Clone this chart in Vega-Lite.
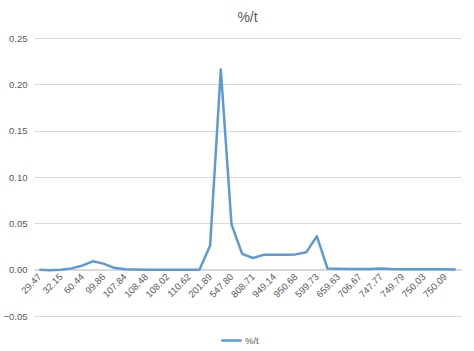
{
  "$schema": "https://vega.github.io/schema/vega-lite/v6.json",
  "width": 427,
  "height": 278,
  "autosize": {"type": "none"},
  "padding": {"left": 34, "top": 38, "right": 13, "bottom": 35},
  "background": "white",
  "config": {
    "view": {"stroke": null},
    "font": "Liberation Sans"
  },
  "title": {
    "text": "%/t",
    "fontSize": 14,
    "fontWeight": "normal",
    "color": "#595959",
    "offset": 8,
    "anchor": "middle"
  },
  "data": {
    "values": [
      {"cat": "29.47", "v": 0.0, "s": "%/t"},
      {"cat": "30.81", "v": -0.0007, "s": "%/t"},
      {"cat": "32.15", "v": 0.0, "s": "%/t"},
      {"cat": "46.30", "v": 0.0014, "s": "%/t"},
      {"cat": "60.44", "v": 0.0043, "s": "%/t"},
      {"cat": "80.15", "v": 0.009, "s": "%/t"},
      {"cat": "99.86", "v": 0.0065, "s": "%/t"},
      {"cat": "103.85", "v": 0.002, "s": "%/t"},
      {"cat": "107.84", "v": 0.0005, "s": "%/t"},
      {"cat": "108.16", "v": 0.0002, "s": "%/t"},
      {"cat": "108.48", "v": 0.0, "s": "%/t"},
      {"cat": "108.25", "v": 0.0, "s": "%/t"},
      {"cat": "108.02", "v": 0.0, "s": "%/t"},
      {"cat": "109.32", "v": 0.0, "s": "%/t"},
      {"cat": "110.62", "v": 0.0, "s": "%/t"},
      {"cat": "156.26", "v": 0.0, "s": "%/t"},
      {"cat": "201.89", "v": 0.026, "s": "%/t"},
      {"cat": "374.85", "v": 0.216, "s": "%/t"},
      {"cat": "547.80", "v": 0.049, "s": "%/t"},
      {"cat": "678.26", "v": 0.017, "s": "%/t"},
      {"cat": "808.71", "v": 0.0126, "s": "%/t"},
      {"cat": "878.93", "v": 0.016, "s": "%/t"},
      {"cat": "949.14", "v": 0.016, "s": "%/t"},
      {"cat": "949.91", "v": 0.016, "s": "%/t"},
      {"cat": "950.68", "v": 0.0165, "s": "%/t"},
      {"cat": "775.21", "v": 0.0187, "s": "%/t"},
      {"cat": "599.73", "v": 0.036, "s": "%/t"},
      {"cat": "629.68", "v": 0.0012, "s": "%/t"},
      {"cat": "659.63", "v": 0.0009, "s": "%/t"},
      {"cat": "683.15", "v": 0.0006, "s": "%/t"},
      {"cat": "706.67", "v": 0.0006, "s": "%/t"},
      {"cat": "727.22", "v": 0.0008, "s": "%/t"},
      {"cat": "747.77", "v": 0.0012, "s": "%/t"},
      {"cat": "748.78", "v": 0.0006, "s": "%/t"},
      {"cat": "749.79", "v": 0.0004, "s": "%/t"},
      {"cat": "749.91", "v": 0.0005, "s": "%/t"},
      {"cat": "750.03", "v": 0.0004, "s": "%/t"},
      {"cat": "750.06", "v": 0.0004, "s": "%/t"},
      {"cat": "750.09", "v": 0.0005, "s": "%/t"},
      {"cat": "750.12", "v": 0.0002, "s": "%/t"}
    ]
  },
  "mark": {"type": "line", "strokeWidth": 2.5, "strokeJoin": "round"},
  "encoding": {
    "x": {
      "field": "cat",
      "type": "ordinal",
      "sort": null,
      "scale": {"type": "point", "padding": 0.5},
      "axis": {
        "title": null,
        "values": ["29.47","32.15","60.44","99.86","107.84","108.48","108.02","110.62","201.89","547.80","808.71","949.14","950.68","599.73","659.63","706.67","747.77","749.79","750.03","750.09"],
        "offset": -47,
        "domain": true,
        "domainColor": "#d9d9d9",
        "ticks": false,
        "labelAngle": -45,
        "labelAlign": "right",
        "labelBaseline": "middle",
        "labelPadding": 6,
        "labelFontSize": 9.5,
        "labelColor": "#595959",
        "labelOverlap": false,
        "grid": false
      }
    },
    "y": {
      "field": "v",
      "type": "quantitative",
      "scale": {"domain": [-0.05, 0.25], "nice": false, "zero": false},
      "axis": {
        "title": null,
        "values": [-0.05, 0, 0.05, 0.1, 0.15, 0.2, 0.25],
        "format": ".2f",
        "domain": false,
        "ticks": false,
        "grid": true,
        "gridColor": "#d9d9d9",
        "gridWidth": 1,
        "labelFontSize": 9.5,
        "labelColor": "#595959",
        "labelPadding": 7
      }
    },
    "color": {
      "field": "s",
      "type": "nominal",
      "scale": {"range": ["#5b9bd5"]},
      "legend": {
        "title": null,
        "orient": "none",
        "legendX": 186,
        "legendY": 291,
        "symbolType": "stroke",
        "symbolSize": 420,
        "symbolStrokeWidth": 2.5,
        "labelFontSize": 9.5,
        "labelColor": "#595959",
        "labelOffset": 2
      }
    }
  }
}
